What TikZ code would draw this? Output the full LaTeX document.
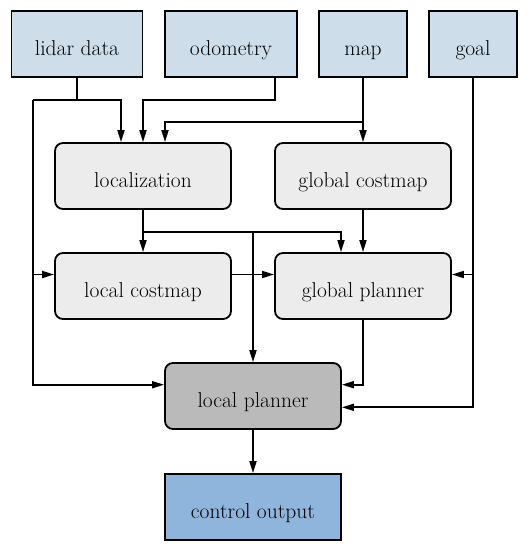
\documentclass[tikz,border=0pt]{standalone}
\usepackage{fontspec}
\usetikzlibrary{arrows.meta,calc}
\definecolor{inblue}{HTML}{CDDDEA}
\definecolor{boxgray}{HTML}{ECECEC}
\definecolor{lpgray}{HTML}{BABABA}
\definecolor{outblue}{HTML}{8FB5DC}
\tikzset{
  base/.style={draw=black, line width=1.8pt, text=black, font=\fontsize{21.5}{25}\selectfont, inner sep=0pt, minimum height=66pt, text height=23pt, text depth=0pt},
  inbox/.style={base, fill=inblue},
  procbox/.style={base, fill=boxgray, rounded corners=8pt, minimum width=176pt},
  lpbox/.style={base, fill=lpgray, rounded corners=8pt, minimum width=176pt},
  outbox/.style={base, fill=outblue, minimum width=176pt},
  conn/.style={line width=1.8pt, draw=black},
  arr/.style={conn, -{Triangle[length=12pt,width=7pt]}},
}
\begin{document}
\begin{tikzpicture}[x=1pt,y=-1pt]
\useasboundingbox (0,0) rectangle (527,550);
% nodes
\node[inbox, minimum width=131pt] (lidar) at (77,44) {lidar data};
\node[inbox, minimum width=132pt] (odo) at (231,44) {odometry};
\node[inbox, minimum width=88pt] (map) at (363,44) {map};
\node[inbox, minimum width=88pt] (goal) at (473,44) {goal};
\node[procbox] (loc) at (143,176) {localization};
\node[procbox] (gcost) at (363,176) {global costmap};
\node[procbox] (lcost) at (143,286) {local costmap};
\node[procbox] (gplan) at (363,286) {global planner};
\node[lpbox] (lp) at (253,396) {local planner};
\node[outbox] (ctrl) at (253,507) {control output};
% junction coordinates
\coordinate (l1) at ($(lidar.south)+(0,22)$);
\coordinate (lx) at ($(l1)+(-44.4,0)$);
\coordinate (o1) at ($(odo.south)+(44,0)$);
\coordinate (m1) at (363,121.7);
\coordinate (b1) at ($(loc.south)+(0,22.2)$);
\coordinate (locA) at ($(loc.north)+(-22,0)$);
\coordinate (locC) at ($(loc.north)+(22,0)$);
\coordinate (gpA) at ($(gplan.north)+(-22,0)$);
\coordinate (lcin) at ($(lcost.west)+(0,-11.5)$);
\coordinate (lcout) at ($(lcost.east)+(0,-11.5)$);
\coordinate (gpinL) at ($(gplan.west)+(0,-11.5)$);
\coordinate (gpinR) at ($(gplan.east)+(0,-11.5)$);
\coordinate (lpinL) at ($(lp.west)+(0,-11.3)$);
\coordinate (lpinR1) at ($(lp.east)+(0,-11.3)$);
\coordinate (lpinR2) at ($(lp.east)+(0,11.3)$);
% lidar
\draw[conn] (lidar.south) -- (l1);
\draw[arr] (l1) -| (locA);
\draw[conn] (l1) -- (lx);
\draw[arr] (lx) |- (lcin);
\draw[arr] (lx) |- (lpinL);
% odometry
\draw[arr] (o1) |- (loc.north |- l1) -- (loc.north);
% map
\draw[arr] (map.south) -- (gcost.north);
\draw[arr] (m1) -| (locC);
% goal
\draw[arr] (goal.south) |- (lpinR2);
\draw[arr] (goal.south) |- (gpinR);
% localization
\draw[arr] (loc.south) -- (lcost.north);
\draw[arr] (b1) -| (gpA);
\draw[arr] (lp.north |- b1) -- (lp.north);
% costmaps
\draw[arr] (gcost.south) -- (gplan.north);
\draw[arr] (lcout) -- (gpinL);
% global planner
\draw[arr] (gplan.south) |- (lpinR1);
% local planner
\draw[arr] (lp.south) -- (ctrl.north);
\end{tikzpicture}
\end{document}
